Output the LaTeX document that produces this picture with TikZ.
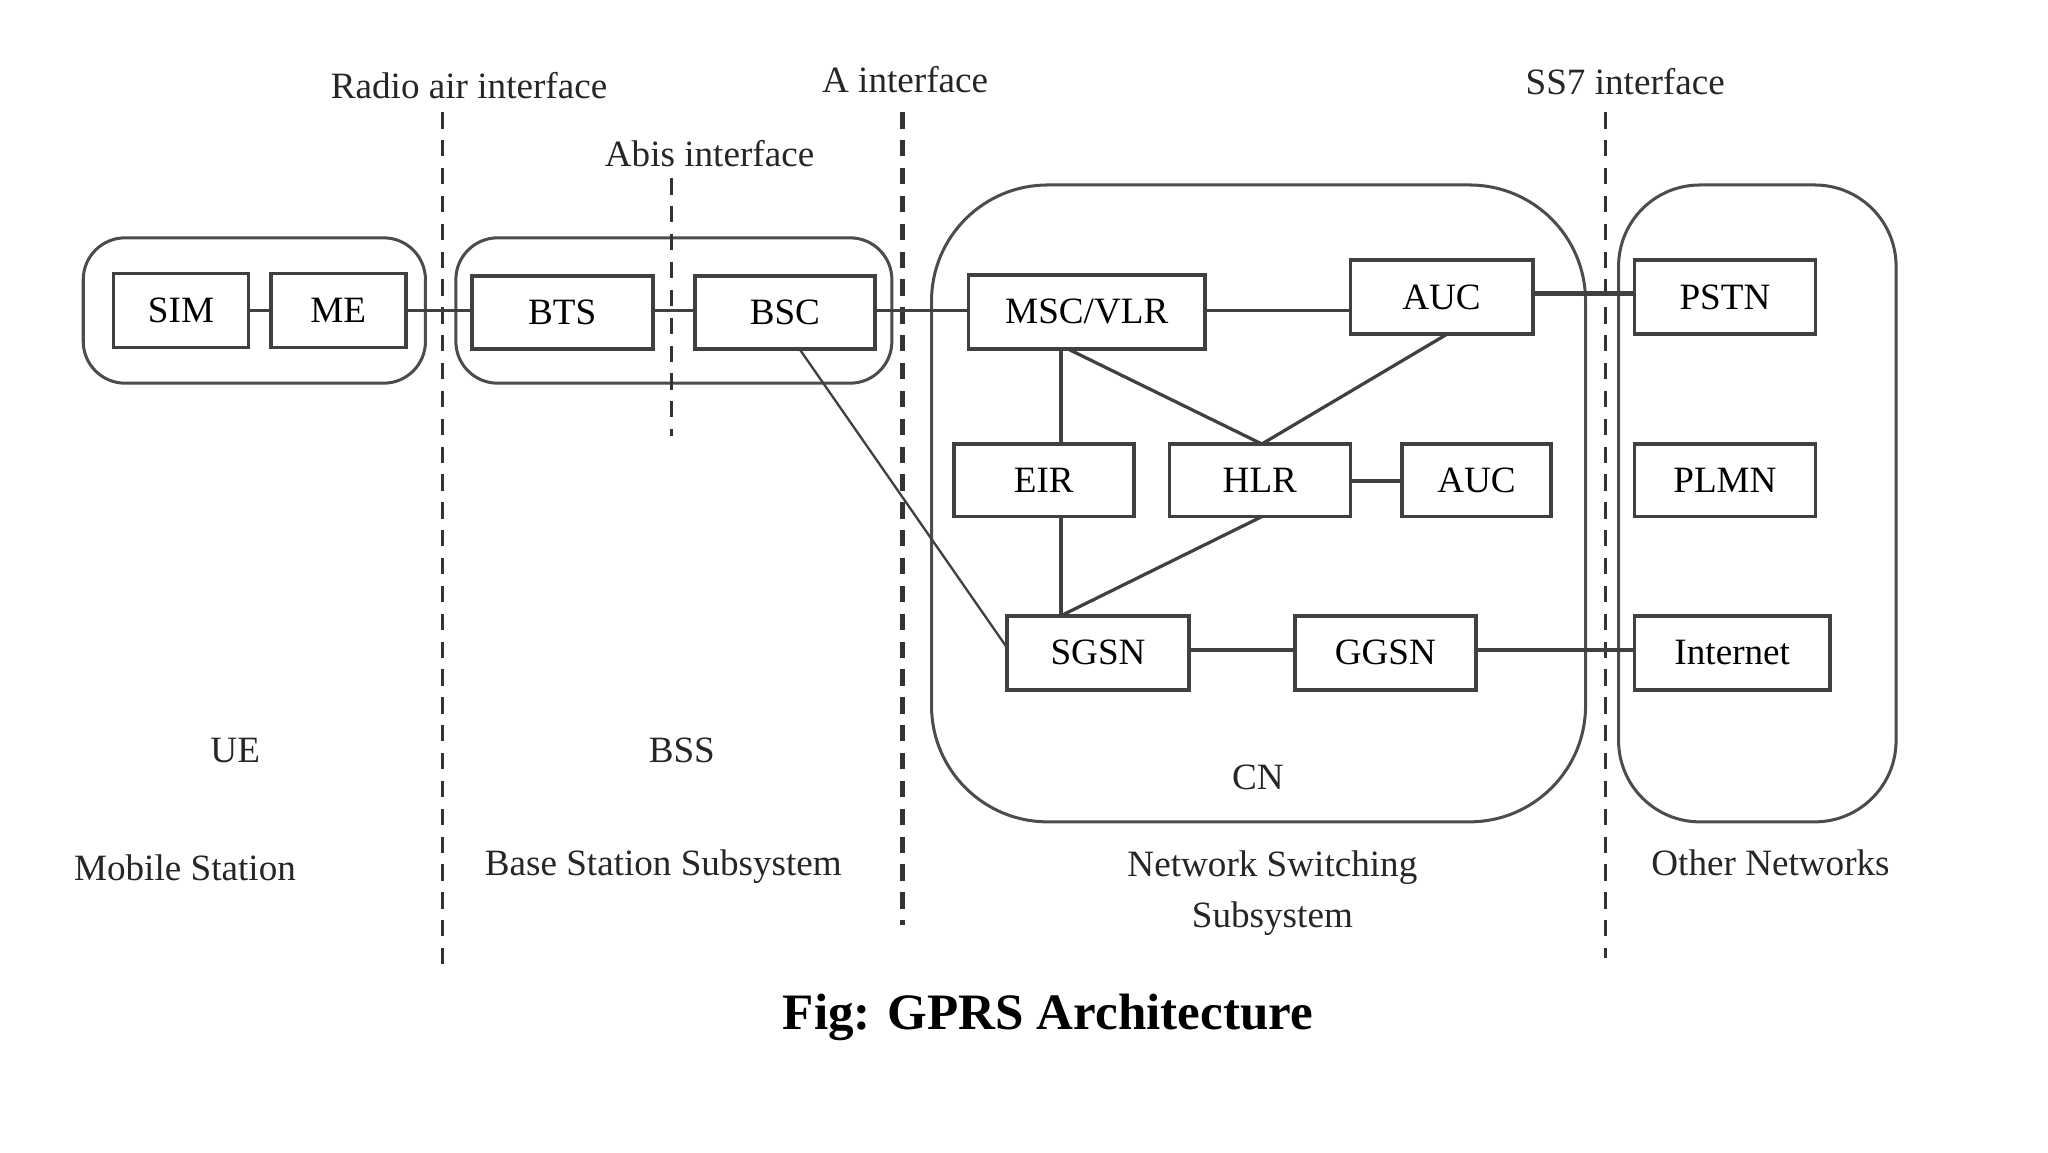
\documentclass[tikz,border=0pt]{standalone}
\usepackage{fontspec}
\setmainfont{Liberation Serif}
\begin{document}
\begin{tikzpicture}[x=0.02cm,y=-0.02cm,
  bx/.style={draw=black!75,line width=1.6pt,fill=white,font=\fontsize{16}{18}\selectfont},
  grp/.style={draw=black!70,line width=1.3pt,rounded corners=#1},
  ln/.style={draw=black!75,line width=1.4pt},
  dl/.style={draw=black!80,line width=1.4pt,dash pattern=on 7pt off 5pt},
  lb/.style={font=\fontsize{16}{18}\selectfont,text=black!85}]
\useasboundingbox (0,0) rectangle (1550,872);
% groups
\draw[grp=18pt] (63,180) rectangle (322,290);
\draw[grp=18pt] (345,180) rectangle (675,290);
\draw[grp=50pt] (705,140) rectangle (1200,622);
\draw[grp=35pt] (1225,140) rectangle (1435,622);
% dashed interface lines
\coordinate (r1) at (335,85); \coordinate (r2) at (335,730);
\coordinate (b1) at (508,135); \coordinate (b2) at (508,330);
\coordinate (a1) at (683,85); \coordinate (a2) at (683,700);
\coordinate (s1) at (1215,85); \coordinate (s2) at (1215,725);
\draw[dl] (r1)--(r2);
\draw[dl] (b1)--(b2);
\draw[dl,line width=2.4pt] (a1)--(a2);
\draw[dl] (s1)--(s2);
% boxes
\path[bx] (86,207) rectangle (188,263) node[midway] (sim) {SIM};
\path[bx] (205,207) rectangle (307,263) node[midway] (me) {ME};
\path[bx] (357,209) rectangle (494,264) node[midway] (bts) {BTS};
\path[bx] (526,209) rectangle (662,264) node[midway] (bsc) {BSC};
\path[bx] (733,208) rectangle (912,264) node[midway] (msc) {MSC/VLR};
\path[bx] (1022,197) rectangle (1160,253) node[midway] (auc1) {AUC};
\path[bx] (1237,197) rectangle (1374,253) node[midway] (pstn) {PSTN};
\path[bx] (722,336) rectangle (858,391) node[midway] (eir) {EIR};
\path[bx] (885,336) rectangle (1022,391) node[midway] (hlr) {HLR};
\path[bx] (1061,336) rectangle (1174,391) node[midway] (auc2) {AUC};
\path[bx] (1237,336) rectangle (1374,391) node[midway] (plmn) {PLMN};
\path[bx] (762,466) rectangle (900,522) node[midway] (sgsn) {SGSN};
\path[bx] (980,466) rectangle (1117,522) node[midway] (ggsn) {GGSN};
\path[bx] (1237,466) rectangle (1385,522) node[midway] (inet) {Internet};
% connector endpoints
\coordinate (simR) at (188,235); \coordinate (meL) at (205,235); \coordinate (meR) at (307,235);
\coordinate (btsL) at (357,235); \coordinate (btsR) at (494,235); \coordinate (bscL) at (526,235);
\coordinate (bscR) at (662,235); \coordinate (mscL) at (733,235); \coordinate (mscR) at (912,235);
\coordinate (auc1L) at (1022,235); \coordinate (auc1R) at (1160,222); \coordinate (pstnL) at (1237,222);
\coordinate (mscB) at (803,264); \coordinate (mscB2) at (808,264);
\coordinate (eirT) at (803,336); \coordinate (eirB) at (803,391); \coordinate (sgsnT) at (803,466);
\coordinate (hlrT) at (955,336); \coordinate (hlrB) at (955,391); \coordinate (auc1B) at (1095,253);
\coordinate (hlrR) at (1022,364); \coordinate (auc2L) at (1061,364);
\coordinate (bscB) at (605,264); \coordinate (sgsnL) at (762,490);
\coordinate (sgsnR) at (900,492); \coordinate (ggsnL) at (980,492);
\coordinate (ggsnR) at (1117,492); \coordinate (inetL) at (1237,492);
\draw[ln] (simR)--(meL); \draw[ln] (meR)--(btsL); \draw[ln] (btsR)--(bscL);
\draw[ln] (bscR)--(mscL); \draw[ln] (mscR)--(auc1L); \draw[ln,line width=2pt] (auc1R)--(pstnL);
\draw[ln] (mscB)--(eirT); \draw[ln] (eirB)--(sgsnT);
\draw[ln] (mscB2)--(hlrT); \draw[ln] (auc1B)--(hlrT);
\draw[ln] (hlrR)--(auc2L); \draw[ln] (hlrB)--(sgsnT);
\draw[ln,line width=1pt] (bscB)--(sgsnL);
\draw[ln] (sgsnR)--(ggsnL); \draw[ln] (ggsnR)--(inetL);
% labels
\node[lb] (l1) at (355,65) {Radio air interface};
\node[lb] (l2) at (685,60) {A interface};
\node[lb] (l3) at (1230,62) {SS7 interface};
\node[lb] (l4) at (537,116) {Abis interface};
\node[lb] (l5) at (178,568) {UE};
\node[lb] (l6) at (516,568) {BSS};
\node[lb] (l7) at (952,588) {CN};
\node[lb] (l8) at (140,657) {Mobile Station};
\node[lb] (l9) at (502,656) {Base Station Subsystem};
\node[lb,align=center,inner sep=0pt] (l10) at (963,676) {Network Switching\\[4pt]Subsystem};
\node[lb] (l11) at (1340,653) {Other Networks};
\node[font=\bfseries\fontsize{22}{24}\selectfont] (cap) at (793,770) {Fig: GPRS Architecture};
\end{tikzpicture}
\end{document}
